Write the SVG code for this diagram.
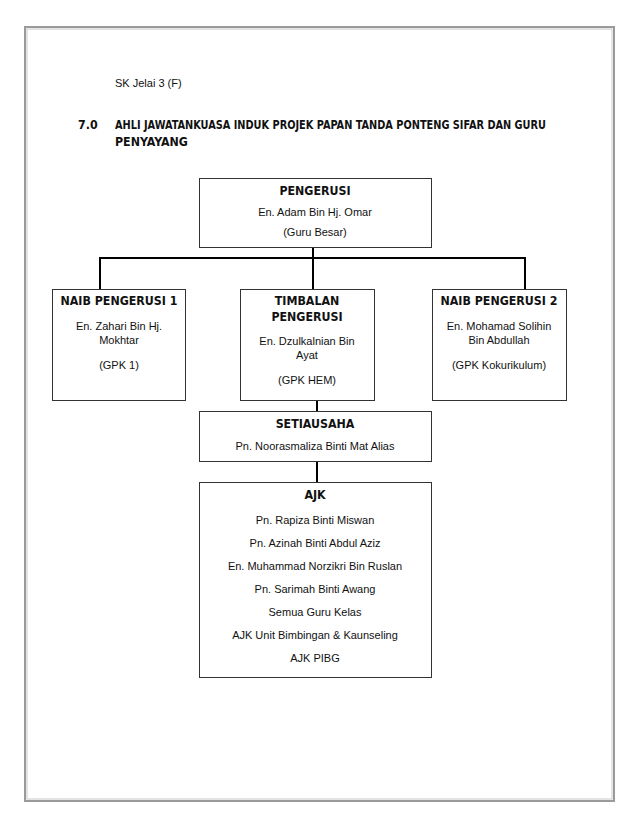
<svg xmlns="http://www.w3.org/2000/svg" width="638" height="826" viewBox="0 0 638 826">
<style>
.box{fill:#fff;stroke:#333;stroke-width:1}
.h{font-family:"DejaVu Sans Condensed","DejaVu Sans",sans-serif;font-stretch:condensed;font-weight:bold;font-size:12.3px;fill:#111;text-anchor:middle}
.t{font-family:"Liberation Sans",Arial,sans-serif;font-size:11px;fill:#111;text-anchor:middle}
.c{stroke:#000;stroke-width:2;fill:none}
</style>
<rect x="0" y="0" width="638" height="826" fill="#fff"/>
<rect x="25" y="27" width="589" height="774" fill="none" stroke="#9a9a9a" stroke-width="2"/>
<rect x="27" y="29" width="585" height="770" fill="none" stroke="#c8c8c8" stroke-width="1"/>
<text x="115" y="87" style="font-family:'Liberation Sans',Arial,sans-serif;font-size:11px;fill:#111">SK Jelai 3 (F)</text>
<text x="78" y="129" class="h" style="text-anchor:start">7.0</text>
<text x="115" y="129" class="h" style="text-anchor:start" textLength="431" lengthAdjust="spacingAndGlyphs">AHLI JAWATANKUASA INDUK PROJEK PAPAN TANDA PONTENG SIFAR DAN GURU</text>
<text x="115" y="146" class="h" style="text-anchor:start">PENYAYANG</text>
<g id="connectors">
<path class="c" d="M313 247 V258 M100 258 H526 M100 257 V289 M313 258 V289 M525 257 V289"/>
<path class="c" d="M317 400 V411 M317 461 V482"/>
</g>
<g id="pengerusi">
<rect class="box" x="199.5" y="178.5" width="232" height="69"/>
<text class="h" x="315" y="195">PENGERUSI</text>
<text class="t" x="315" y="216">En. Adam Bin Hj. Omar</text>
<text class="t" x="315" y="236">(Guru Besar)</text>
</g>
<g id="naib1">
<rect class="box" x="52.5" y="289.5" width="133" height="111"/>
<text class="h" x="119" y="305">NAIB PENGERUSI 1</text>
<text class="t" x="119" y="330">En. Zahari Bin Hj.</text>
<text class="t" x="119" y="344">Mokhtar</text>
<text class="t" x="119" y="369">(GPK 1)</text>
</g>
<g id="timbalan">
<rect class="box" x="240.5" y="289.5" width="134" height="111"/>
<text class="h" x="307" y="305">TIMBALAN</text>
<text class="h" x="307" y="321">PENGERUSI</text>
<text class="t" x="307" y="345">En. Dzulkalnian Bin</text>
<text class="t" x="307" y="359">Ayat</text>
<text class="t" x="307" y="384">(GPK HEM)</text>
</g>
<g id="naib2">
<rect class="box" x="432.5" y="289.5" width="134" height="111"/>
<text class="h" x="499" y="305">NAIB PENGERUSI 2</text>
<text class="t" x="499" y="330">En. Mohamad Solihin</text>
<text class="t" x="499" y="344">Bin Abdullah</text>
<text class="t" x="499" y="369">(GPK Kokurikulum)</text>
</g>
<g id="setiausaha">
<rect class="box" x="199.5" y="411.5" width="232" height="50"/>
<text class="h" x="315" y="428">SETIAUSAHA</text>
<text class="t" x="315" y="450">Pn. Noorasmaliza Binti Mat Alias</text>
</g>
<g id="ajk">
<rect class="box" x="199.5" y="482.5" width="232" height="195"/>
<text class="h" x="315" y="499">AJK</text>
<text class="t" x="315" y="524">Pn. Rapiza Binti Miswan</text>
<text class="t" x="315" y="547">Pn. Azinah Binti Abdul Aziz</text>
<text class="t" x="315" y="570">En. Muhammad Norzikri Bin Ruslan</text>
<text class="t" x="315" y="593">Pn. Sarimah Binti Awang</text>
<text class="t" x="315" y="616">Semua Guru Kelas</text>
<text class="t" x="315" y="639">AJK Unit Bimbingan &amp; Kaunseling</text>
<text class="t" x="315" y="662">AJK PIBG</text>
</g>
</svg>
